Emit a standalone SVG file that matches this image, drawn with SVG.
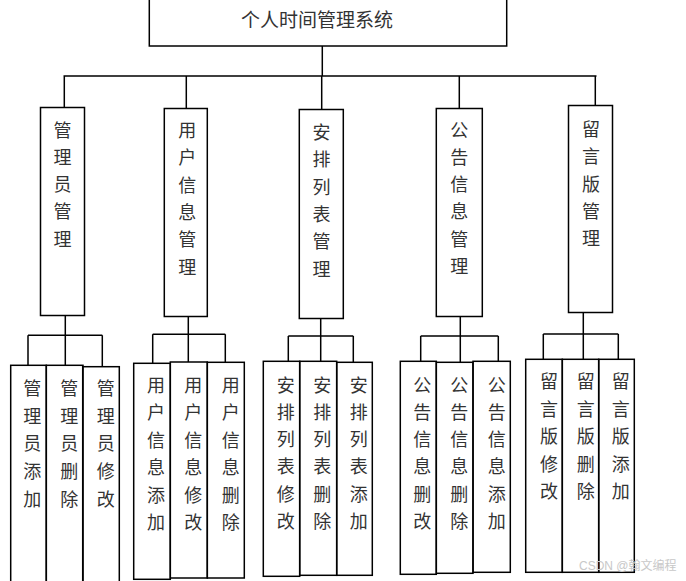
<svg xmlns="http://www.w3.org/2000/svg" width="686" height="581" viewBox="0 0 686 581">
<style>
.box{fill:#fff;stroke:#000;stroke-width:1.5}
.leaf{fill:none;stroke:#000;stroke-width:1.5}
.ln{fill:none;stroke:#000;stroke-width:1.5}
.t{font-family:"Noto Sans CJK SC","Noto Sans CJK JP",sans-serif;font-size:18px;fill:#333;text-anchor:middle}
.title{font-family:"Noto Sans CJK SC","Noto Sans CJK JP",sans-serif;font-size:19px;fill:#333;text-anchor:middle}
.wm{font-family:"Liberation Sans","Noto Sans CJK SC",sans-serif;font-size:12px;fill:#c8c8c8}
</style>
<rect width="686" height="581" fill="#fff"/>

<g id="connectors">
  <path class="ln" d="M322.3 46V76M63.5 76H596.5M64.3 76V107.5M186.3 76V108.5M321.7 76V109.5M459.3 76V108.5M595.3 76V105.5"/>
  <path class="ln" d="M65.3 315.3V335.3M28 335.3H102.3M28 335.3V365.3M65.3 335.3V365.3M102.3 335.3V366.7"/>
  <path class="ln" d="M188.3 316.3V334.3M152.7 334.3H225.3M152.7 334.3V363.3M188.3 334.3V362M225.3 334.3V362.3"/>
  <path class="ln" d="M320.7 318.3V336M288.3 336H353.3M288.3 336V361.3M320.7 336V361.3M353.3 336V362.3"/>
  <path class="ln" d="M460.3 316.3V336M420.7 336H498.3M420.7 336V361.3M460.3 336V362.3M498.3 336V361.3"/>
  <path class="ln" d="M583.3 312.3V334M543.3 334H618.3M543.3 334V359.3M583.3 334V359.3M618.3 334V359.3"/>
</g>

<g id="root">
  <rect class="box" x="149.3" y="-2" width="357.4" height="48"/>
  <text class="title" x="317" y="26.5">个人时间管理系统</text>
</g>

<g id="n1">
  <rect class="box" x="40.5" y="107.5" width="44" height="208"/>
  <text class="t" x="62.5" y="136.5"><tspan x="62.5">管</tspan><tspan x="62.5" dy="27.3">理</tspan><tspan x="62.5" dy="27.3">员</tspan><tspan x="62.5" dy="27.3">管</tspan><tspan x="62.5" dy="27.3">理</tspan></text>
</g>
<g id="n2">
  <rect class="box" x="164.3" y="108.5" width="43" height="208"/>
  <text class="t" x="187.3" y="137"><tspan x="187.3">用</tspan><tspan x="187.3" dy="27.3">户</tspan><tspan x="187.3" dy="27.3">信</tspan><tspan x="187.3" dy="27.3">息</tspan><tspan x="187.3" dy="27.3">管</tspan><tspan x="187.3" dy="27.3">理</tspan></text>
</g>
<g id="n3">
  <rect class="box" x="299.3" y="109.5" width="44" height="209"/>
  <text class="t" x="321.5" y="139"><tspan x="321.5">安</tspan><tspan x="321.5" dy="27.3">排</tspan><tspan x="321.5" dy="27.3">列</tspan><tspan x="321.5" dy="27.3">表</tspan><tspan x="321.5" dy="27.3">管</tspan><tspan x="321.5" dy="27.3">理</tspan></text>
</g>
<g id="n4">
  <rect class="box" x="436.3" y="108.5" width="46" height="208"/>
  <text class="t" x="459.3" y="136.5"><tspan x="459.3">公</tspan><tspan x="459.3" dy="27.3">告</tspan><tspan x="459.3" dy="27.3">信</tspan><tspan x="459.3" dy="27.3">息</tspan><tspan x="459.3" dy="27.3">管</tspan><tspan x="459.3" dy="27.3">理</tspan></text>
</g>
<g id="n5">
  <rect class="box" x="568.5" y="105.5" width="44" height="207"/>
  <text class="t" x="591" y="136"><tspan x="591">留</tspan><tspan x="591" dy="27.3">言</tspan><tspan x="591" dy="27.3">版</tspan><tspan x="591" dy="27.3">管</tspan><tspan x="591" dy="27.3">理</tspan></text>
</g>

<g id="n1a">
  <rect class="leaf" x="10.7" y="365.3" width="35.6" height="230"/>
  <text class="t" x="32.3" y="395"><tspan x="32.3">管</tspan><tspan x="32.3" dy="27.7">理</tspan><tspan x="32.3" dy="27.7">员</tspan><tspan x="32.3" dy="27.7">添</tspan><tspan x="32.3" dy="27.7">加</tspan></text>
</g>
<g id="n1b">
  <rect class="leaf" x="46.3" y="365.3" width="36.7" height="230"/>
  <text class="t" x="69.3" y="395"><tspan x="69.3">管</tspan><tspan x="69.3" dy="27.7">理</tspan><tspan x="69.3" dy="27.7">员</tspan><tspan x="69.3" dy="27.7">删</tspan><tspan x="69.3" dy="27.7">除</tspan></text>
</g>
<g id="n1c">
  <rect class="leaf" x="82.7" y="366.7" width="36.6" height="230"/>
  <text class="t" x="105.7" y="395"><tspan x="105.7">管</tspan><tspan x="105.7" dy="27.7">理</tspan><tspan x="105.7" dy="27.7">员</tspan><tspan x="105.7" dy="27.7">修</tspan><tspan x="105.7" dy="27.7">改</tspan></text>
</g>

<g id="n2a">
  <rect class="leaf" x="133.7" y="363.3" width="36.6" height="216"/>
  <text class="t" x="156" y="391.5"><tspan x="156">用</tspan><tspan x="156" dy="27.5">户</tspan><tspan x="156" dy="27.5">信</tspan><tspan x="156" dy="27.5">息</tspan><tspan x="156" dy="27.5">添</tspan><tspan x="156" dy="27.5">加</tspan></text>
</g>
<g id="n2b">
  <rect class="leaf" x="170.3" y="362" width="37" height="216"/>
  <text class="t" x="193.3" y="391.5"><tspan x="193.3">用</tspan><tspan x="193.3" dy="27.5">户</tspan><tspan x="193.3" dy="27.5">信</tspan><tspan x="193.3" dy="27.5">息</tspan><tspan x="193.3" dy="27.5">修</tspan><tspan x="193.3" dy="27.5">改</tspan></text>
</g>
<g id="n2c">
  <rect class="leaf" x="207.3" y="362.3" width="37" height="215.7"/>
  <text class="t" x="230.7" y="391.5"><tspan x="230.7">用</tspan><tspan x="230.7" dy="27.5">户</tspan><tspan x="230.7" dy="27.5">信</tspan><tspan x="230.7" dy="27.5">息</tspan><tspan x="230.7" dy="27.5">删</tspan><tspan x="230.7" dy="27.5">除</tspan></text>
</g>

<g id="n3a">
  <rect class="leaf" x="263.3" y="361.3" width="36.4" height="215"/>
  <text class="t" x="285.7" y="391.5"><tspan x="285.7">安</tspan><tspan x="285.7" dy="27.3">排</tspan><tspan x="285.7" dy="27.3">列</tspan><tspan x="285.7" dy="27.3">表</tspan><tspan x="285.7" dy="27.3">修</tspan><tspan x="285.7" dy="27.3">改</tspan></text>
</g>
<g id="n3b">
  <rect class="leaf" x="299.7" y="361.3" width="37" height="214"/>
  <text class="t" x="322.3" y="391.5"><tspan x="322.3">安</tspan><tspan x="322.3" dy="27.3">排</tspan><tspan x="322.3" dy="27.3">列</tspan><tspan x="322.3" dy="27.3">表</tspan><tspan x="322.3" dy="27.3">删</tspan><tspan x="322.3" dy="27.3">除</tspan></text>
</g>
<g id="n3c">
  <rect class="leaf" x="336.7" y="362.3" width="35.6" height="213"/>
  <text class="t" x="358.7" y="391.5"><tspan x="358.7">安</tspan><tspan x="358.7" dy="27.3">排</tspan><tspan x="358.7" dy="27.3">列</tspan><tspan x="358.7" dy="27.3">表</tspan><tspan x="358.7" dy="27.3">添</tspan><tspan x="358.7" dy="27.3">加</tspan></text>
</g>

<g id="n4a">
  <rect class="leaf" x="400.3" y="361.3" width="36" height="213"/>
  <text class="t" x="422.3" y="391.5"><tspan x="422.3">公</tspan><tspan x="422.3" dy="27.3">告</tspan><tspan x="422.3" dy="27.3">信</tspan><tspan x="422.3" dy="27.3">息</tspan><tspan x="422.3" dy="27.3">删</tspan><tspan x="422.3" dy="27.3">改</tspan></text>
</g>
<g id="n4b">
  <rect class="leaf" x="436.3" y="362.3" width="36.7" height="211"/>
  <text class="t" x="459.3" y="391.5"><tspan x="459.3">公</tspan><tspan x="459.3" dy="27.3">告</tspan><tspan x="459.3" dy="27.3">信</tspan><tspan x="459.3" dy="27.3">息</tspan><tspan x="459.3" dy="27.3">删</tspan><tspan x="459.3" dy="27.3">除</tspan></text>
</g>
<g id="n4c">
  <rect class="leaf" x="473" y="361.3" width="37.3" height="211"/>
  <text class="t" x="496.7" y="391.5"><tspan x="496.7">公</tspan><tspan x="496.7" dy="27.3">告</tspan><tspan x="496.7" dy="27.3">信</tspan><tspan x="496.7" dy="27.3">息</tspan><tspan x="496.7" dy="27.3">添</tspan><tspan x="496.7" dy="27.3">加</tspan></text>
</g>

<g id="n5a">
  <rect class="leaf" x="525.7" y="359.3" width="36.6" height="213"/>
  <text class="t" x="549" y="388"><tspan x="549">留</tspan><tspan x="549" dy="27.6">言</tspan><tspan x="549" dy="27.6">版</tspan><tspan x="549" dy="27.6">修</tspan><tspan x="549" dy="27.6">改</tspan></text>
</g>
<g id="n5b">
  <rect class="leaf" x="562.3" y="359.3" width="36.4" height="213"/>
  <text class="t" x="585.7" y="388"><tspan x="585.7">留</tspan><tspan x="585.7" dy="27.6">言</tspan><tspan x="585.7" dy="27.6">版</tspan><tspan x="585.7" dy="27.6">删</tspan><tspan x="585.7" dy="27.6">除</tspan></text>
</g>
<g id="n5c">
  <rect class="leaf" x="598.7" y="359.3" width="35.6" height="213"/>
  <text class="t" x="620.7" y="388"><tspan x="620.7">留</tspan><tspan x="620.7" dy="27.6">言</tspan><tspan x="620.7" dy="27.6">版</tspan><tspan x="620.7" dy="27.6">添</tspan><tspan x="620.7" dy="27.6">加</tspan></text>
</g>

<text class="wm" x="579" y="569.5">CSDN @翰文编程</text>
</svg>
